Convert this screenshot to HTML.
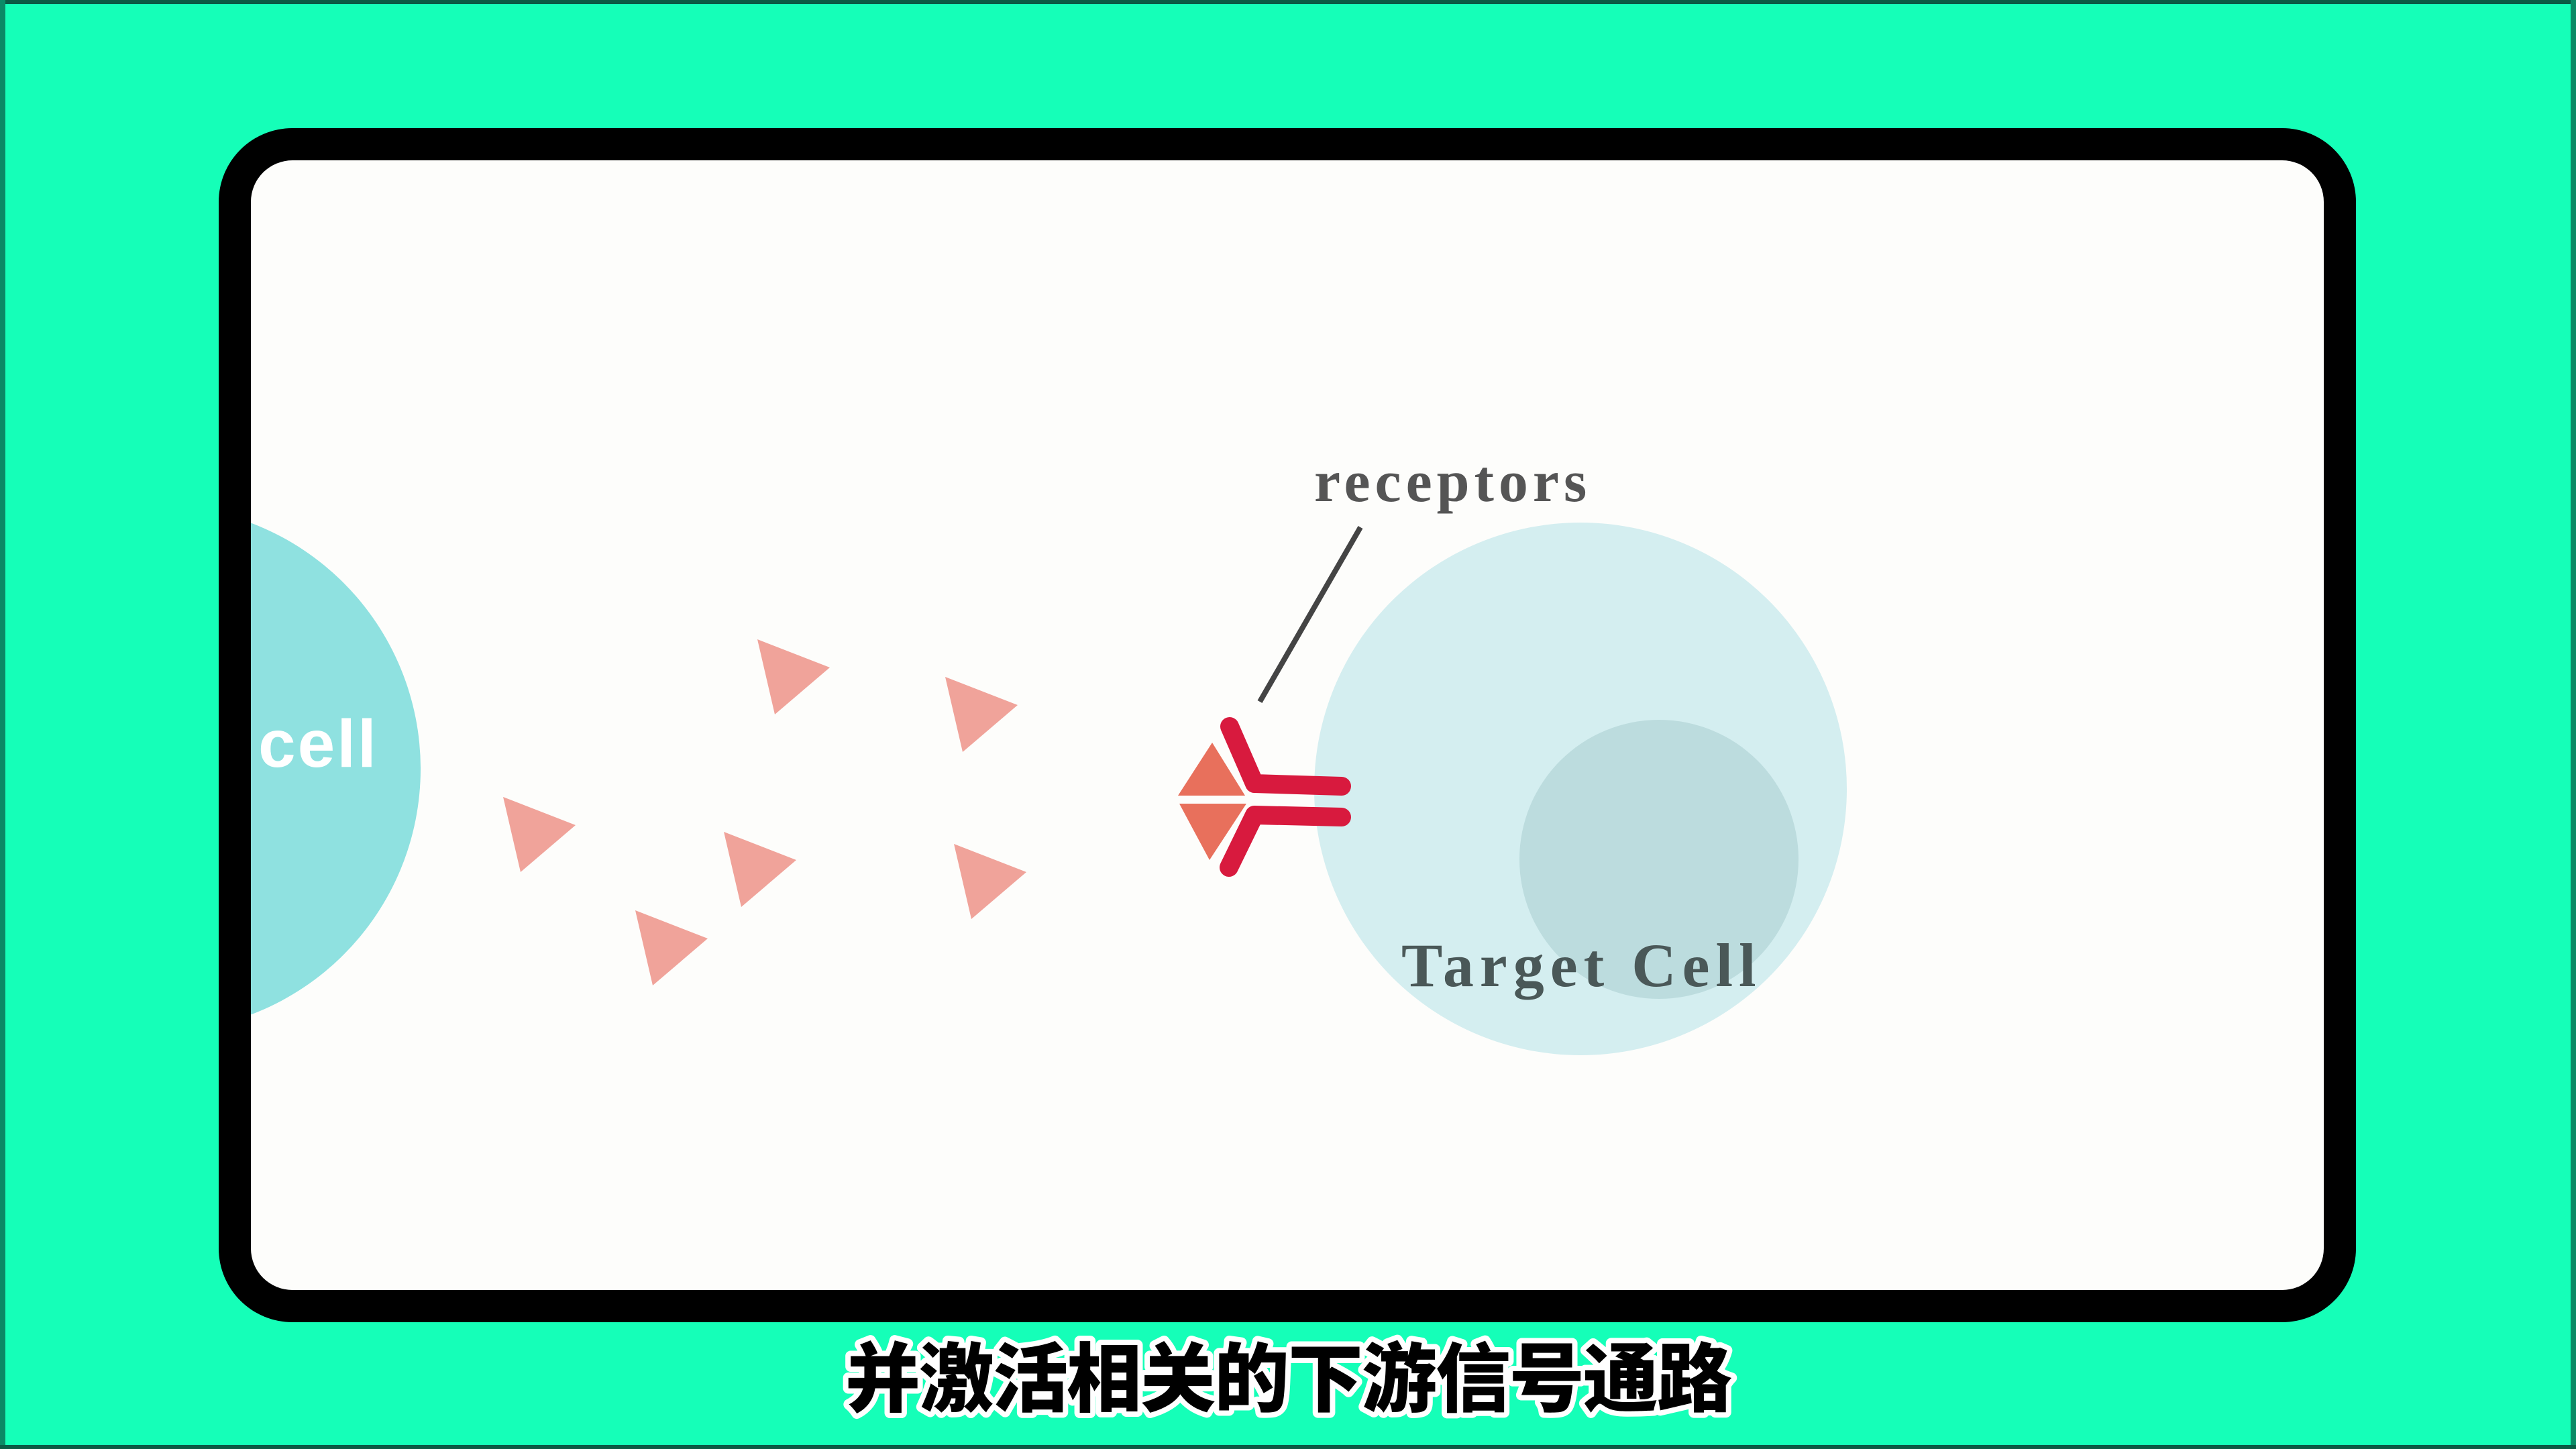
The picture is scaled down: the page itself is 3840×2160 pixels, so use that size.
<!DOCTYPE html>
<html><head><meta charset="utf-8"><style>
html,body{margin:0;padding:0;width:3840px;height:2160px;overflow:hidden;background:#15ffb8;}
</style></head><body>
<svg width="3840" height="2160" viewBox="0 0 3840 2160" xmlns="http://www.w3.org/2000/svg">
<defs><clipPath id="c"><rect x="374" y="239" width="3090" height="1684" rx="62"/></clipPath></defs>
<rect x="0" y="0" width="3840" height="2160" fill="#15ffb8"/>
<rect x="0" y="0" width="3840" height="6" fill="#0b5a44"/>
<rect x="0" y="0" width="8" height="2160" fill="#0b8a66"/>
<rect x="3832" y="0" width="8" height="2160" fill="#0b8a66"/>
<rect x="0" y="2154" width="3840" height="6" fill="#0b5a44"/>
<rect x="326" y="191" width="3186" height="1780" rx="110" fill="#000"/>
<rect x="374" y="239" width="3090" height="1684" rx="62" fill="#fdfdfb"/>
<g clip-path="url(#c)">
<circle cx="235" cy="1146" r="392" fill="#8fe1e0"/>
<text x="385" y="1143" font-family="Liberation Sans, sans-serif" font-weight="bold" font-size="100" letter-spacing="3" fill="#ffffff">cell</text>
<circle cx="2356" cy="1176" r="397" fill="#d4eef0"/>
<circle cx="2473" cy="1281" r="208" fill="#bcdcde"/>
<text x="2089" y="1470" font-family="Liberation Serif, serif" font-weight="bold" font-size="92" letter-spacing="9" fill="#4a5858">Target Cell</text>
<text x="1959" y="747" font-family="Liberation Serif, serif" font-weight="bold" font-size="88" letter-spacing="7" fill="#555">receptors</text>
<line x1="2028" y1="786" x2="1878" y2="1046" stroke="#444" stroke-width="8"/>
<g fill="#f0a39a">
<polygon points="1129,953 1237,995 1155,1065"/>
<polygon points="1409,1009 1517,1051 1435,1121"/>
<polygon points="750,1188 858,1230 776,1300"/>
<polygon points="1079,1240 1187,1282 1105,1352"/>
<polygon points="1422,1258 1530,1300 1448,1370"/>
<polygon points="947,1357 1055,1399 973,1469"/>
</g>
<g fill="#e8705c">
<polygon points="1807,1107 1856,1186 1756,1186"/>
<polygon points="1758,1198 1858,1198 1803,1282"/>
</g>
<g fill="none" stroke="#d81a3e" stroke-width="28" stroke-linecap="round" stroke-linejoin="round">
<polyline points="1833,1083 1870,1168 2000,1172"/>
<polyline points="1832,1293 1870,1215 2000,1218"/>
</g>
</g>
<text x="1920" y="2095" text-anchor="middle" font-family="Liberation Sans, 'Noto Sans CJK SC', sans-serif" font-weight="900" font-size="112" fill="#000" stroke="#fff" stroke-width="16" paint-order="stroke" stroke-linejoin="round" letter-spacing="-2">并激活相关的下游信号通路</text>
</svg>
</body></html>
